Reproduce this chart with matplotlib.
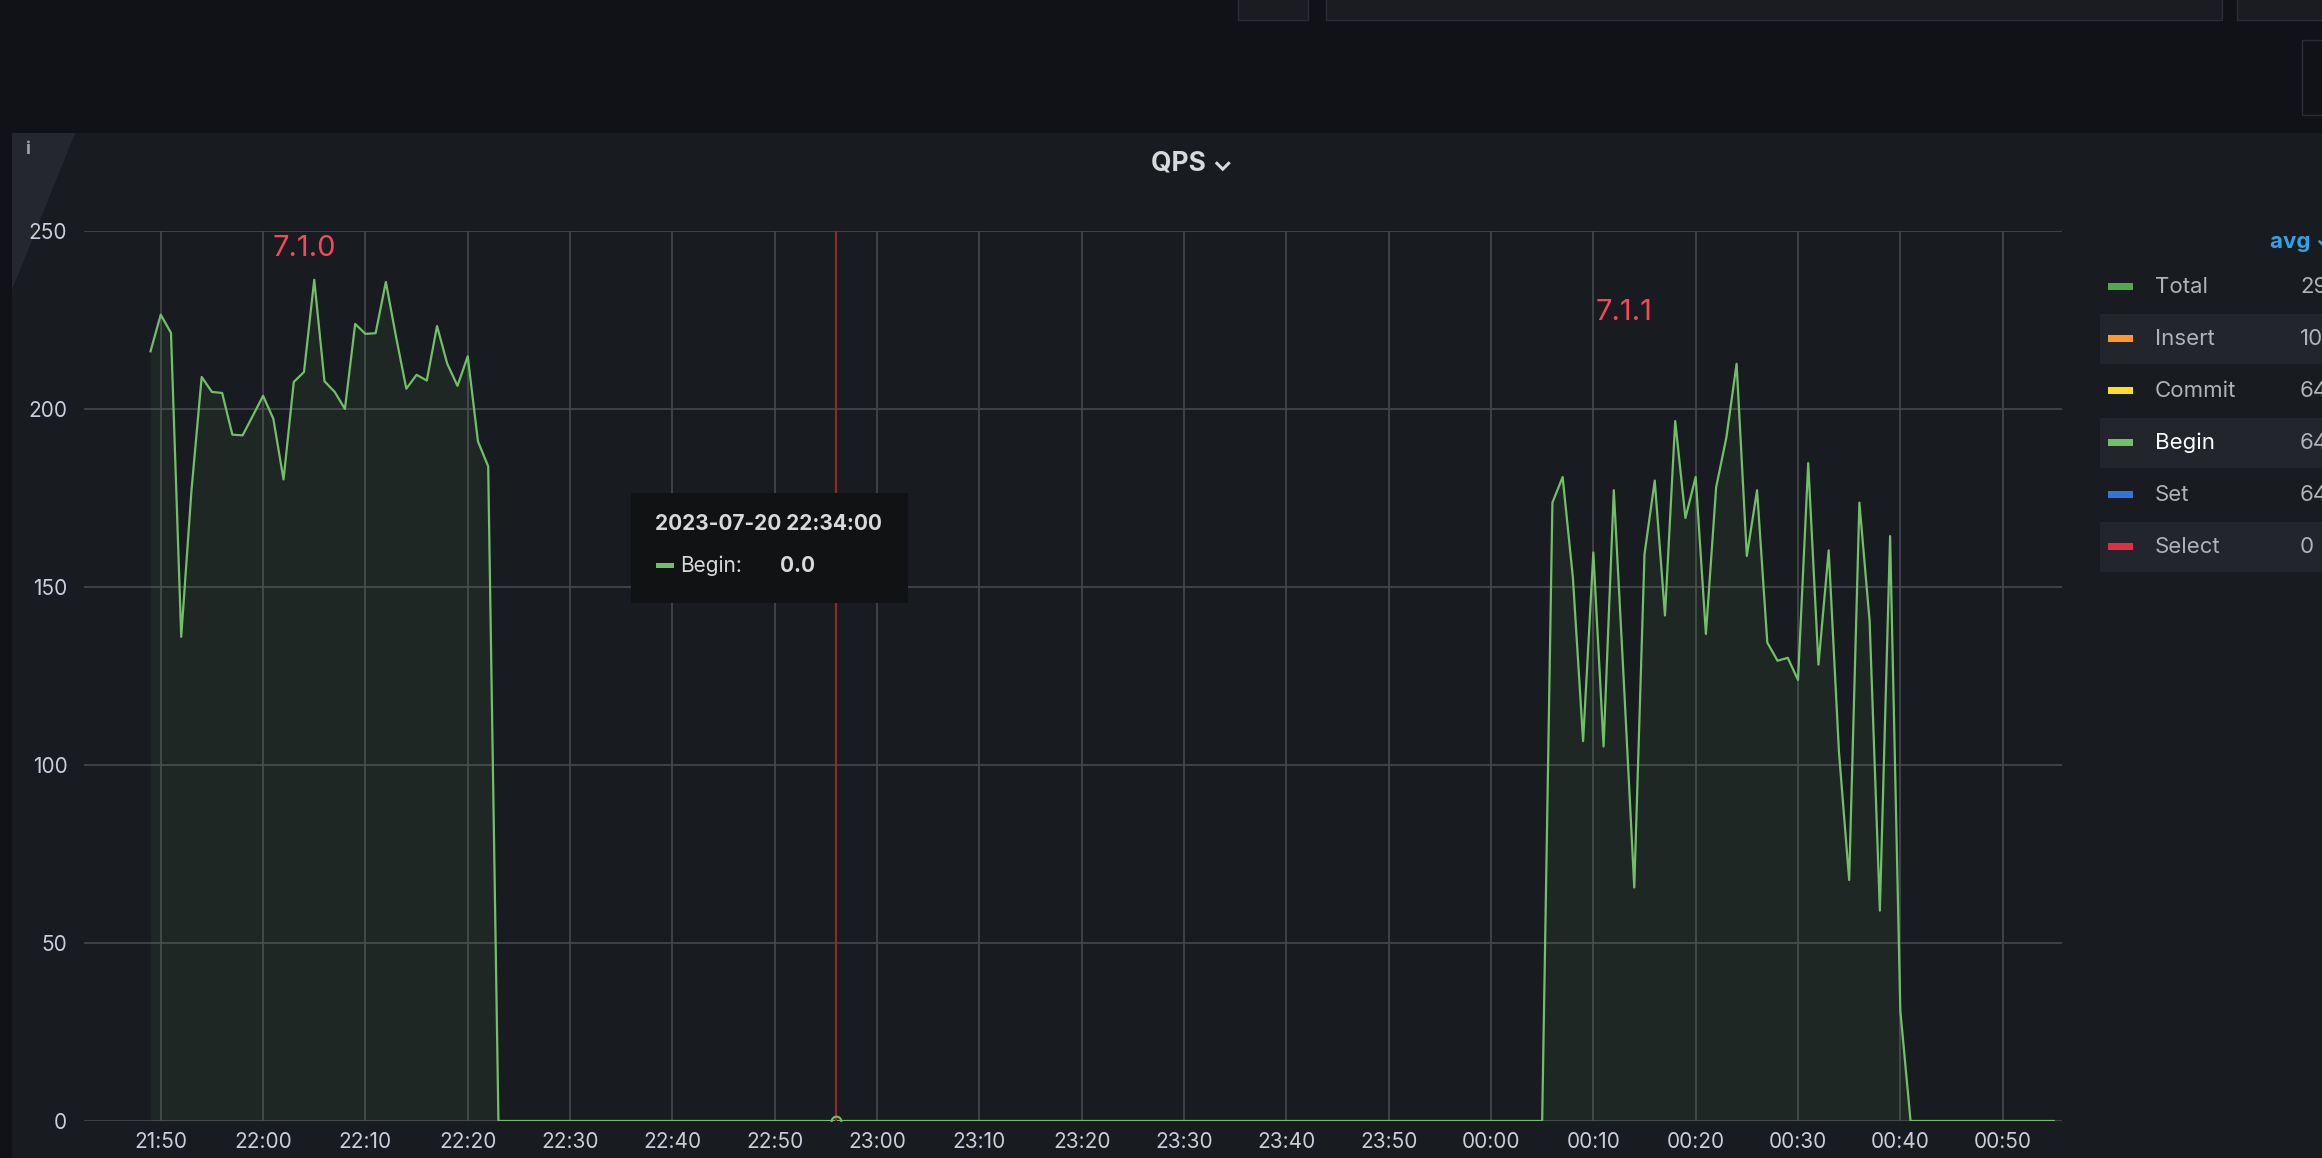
import matplotlib
matplotlib.use("Agg")
import matplotlib.pyplot as plt
from matplotlib.patches import Rectangle, Polygon

plt.rcParams['font.family'] = ['Inter', 'DejaVu Sans']

# ---- data (1-minute samples, "Begin" QPS) ----
seg1_start = "21:49"
seg1 = [216.2, 226.5, 221.4, 136, 177, 209, 204.8, 204.5, 192.8, 192.6, 198.1,
        203.7, 197.3, 180.2, 207.6, 210.4, 236.3, 207.8, 204.8, 200, 223.9,
        221.1, 221.3, 235.7, 220.2, 205.7, 209.6, 208, 223.3, 212.7, 206.5,
        214.8, 190.9, 183.9, 0]
zero_end = "00:05"
seg2 = [173.7, 180.9, 152.7, 106.7, 159.7, 105.2, 177.2, 122.3, 65.6, 159.2,
        179.9, 142, 196.6, 169.4, 180.9, 136.8, 178, 192, 212.7, 158.7, 177.2,
        134.4, 129.3, 130.1, 123.9, 184.8, 128.2, 160.3, 103.8, 67.7, 173.7,
        140.4, 59.1, 164.3, 31, 0]
series_end = "00:55"
xtick_labels = ["21:50", "22:00", "22:10", "22:20", "22:30", "22:40", "22:50",
                "23:00", "23:10", "23:20", "23:30", "23:40", "23:50", "00:00",
                "00:10", "00:20", "00:30", "00:40", "00:50"]
yticks = [0, 50, 100, 150, 200, 250]
marker_time = "22:56"
legend_names = ["Total", "Insert", "Commit", "Begin", "Set", "Select"]
legend_vals = ["294", "101", "64", "64", "64", "0"]
legend_colors = ["#56a64b", "#ff9830", "#fade2a", "#73bf69", "#3274d9", "#e02f44"]
annotations = [("7.1.0", "22:04", 245), ("7.1.1", "00:13", 227)]

def tmin(s):
    h, m = map(int, s.split(":"))
    if h < 12:
        h += 24
    return (h - 21) * 60 + m - 50  # minutes after 21:50

s1 = tmin(seg1_start)
xs = [s1 + i for i in range(len(seg1))]
ys = list(seg1)
z = tmin(zero_end)
xs += [z - 0]; ys += [0]
xs += [z + 1 + i for i in range(len(seg2))]; ys += seg2
xs += [tmin(series_end)]; ys += [0]

W, H = 2322, 1158
fig = plt.figure(figsize=(W/100, H/100), dpi=100)
fig.patch.set_facecolor("#111217")

# panel background
fig.add_artist(Rectangle((12/W, 0), 1, 1 - 133/H, transform=fig.transFigure,
                         facecolor="#181b1f", edgecolor="none", zorder=0))
fig.add_artist(Polygon([(12/W, 1-133/H), (75/W, 1-133/H), (12/W, 1-290/H)],
                       closed=True, transform=fig.transFigure,
                       facecolor="#24272d", edgecolor="none", zorder=0))
fig.text(28/W, 1-150/H, "i", color="#9fa1a6", fontsize=13, fontweight="bold",
         ha="center", va="center")
# header boxes
for (x0, x1) in [(1238, 1308), (1326, 2222), (2237, 2322)]:
    fig.add_artist(Rectangle((x0/W, 1-20/H), (x1-x0)/W, 30/H, transform=fig.transFigure,
                             facecolor="#1a1c21", edgecolor="#2a2d33", zorder=0))
fig.add_artist(Rectangle((2302/W, 1-115/H), 30/W, 75/H, transform=fig.transFigure,
                         facecolor="#111217", edgecolor="#2a2d33", zorder=0))

fig.text(1192/W, 1-163/H, "QPS \u2304", color="#d8d9da", fontsize=19,
         fontweight="bold", ha="center", va="center")

ax = fig.add_axes([84/W, 1-1121/H, (2062-84)/W, (1121-231)/H])
ax.set_facecolor("#181b1f")
ax.plot(xs, ys, color="#73bf69", lw=1.6, zorder=3)
ax.fill_between(xs, ys, 0, color="#73bf69", alpha=0.08, lw=0, zorder=2)
mt = tmin(marker_time)
ax.axvline(mt, color="#8f2a2a", lw=1.6, zorder=4)
ax.plot([mt], [0], marker="o", ms=7, mfc="none", mec="#73bf69", mew=1.5, zorder=5)

ax.set_xlim(-7.5, tmin("00:50") + 5.8)
ax.set_ylim(0, 250)
ax.set_xticks([tmin(t) for t in xtick_labels])
ax.set_xticklabels(xtick_labels)
ax.set_yticks(yticks)
ax.grid(True, color="#45484d", lw=1.2)
ax.set_axisbelow(True)
for sp in ax.spines.values():
    sp.set_visible(False)
ax.tick_params(colors="#ccccdc", labelsize=15, length=0, pad=8)
ax.tick_params(axis="y", pad=12)

for txt, t, v in annotations:
    ax.text(tmin(t), v, txt, color="#f2495c", fontsize=21, ha="center", va="center")

# tooltip
fig.add_artist(Rectangle((631/W, 1-603/H), 277/W, 110/H, transform=fig.transFigure,
                         facecolor="#111214", edgecolor="none", zorder=6))
fig.text(655/W, 1-524/H, "2023-07-20 22:34:00", color="#d8d9da", fontsize=15,
         fontweight="bold", va="center", zorder=7)
fig.add_artist(Rectangle((656/W, 1-568/H), 18/W, 5/H, transform=fig.transFigure,
                         facecolor="#73bf69", edgecolor="none", zorder=7))
fig.text(680/W, 1-566/H, "Begin:", color="#d8d9da", fontsize=15, va="center", zorder=7)
fig.text(780/W, 1-566/H, "0.0", color="#d8d9da", fontsize=15, fontweight="bold",
         va="center", zorder=7)

# legend
fig.text(2302/W, 1-242/H, "avg \u2304", color="#33a2e5", fontsize=16,
         fontweight="bold", ha="center", va="center")
for i, (n, v, c) in enumerate(zip(legend_names, legend_vals, legend_colors)):
    yc = 1 - (287 + i*52)/H
    if i % 2 == 1:
        fig.add_artist(Rectangle((2100/W, yc - 25/H), 240/W, 50/H, transform=fig.transFigure,
                                 facecolor="#22252b", edgecolor="none", zorder=1))
    fig.add_artist(Rectangle((2108/W, yc - 3/H), 25/W, 7/H, transform=fig.transFigure,
                             facecolor=c, edgecolor="none", zorder=2))
    fig.text(2155/W, yc, n, color="#ffffff" if n == "Begin" else "#b0b2b7",
             fontsize=16, va="center", zorder=3)
    fig.text(2300/W, yc, v, color="#b0b2b7", fontsize=16, va="center", zorder=3)

fig.savefig("out.png", dpi=100, facecolor=fig.get_facecolor())
